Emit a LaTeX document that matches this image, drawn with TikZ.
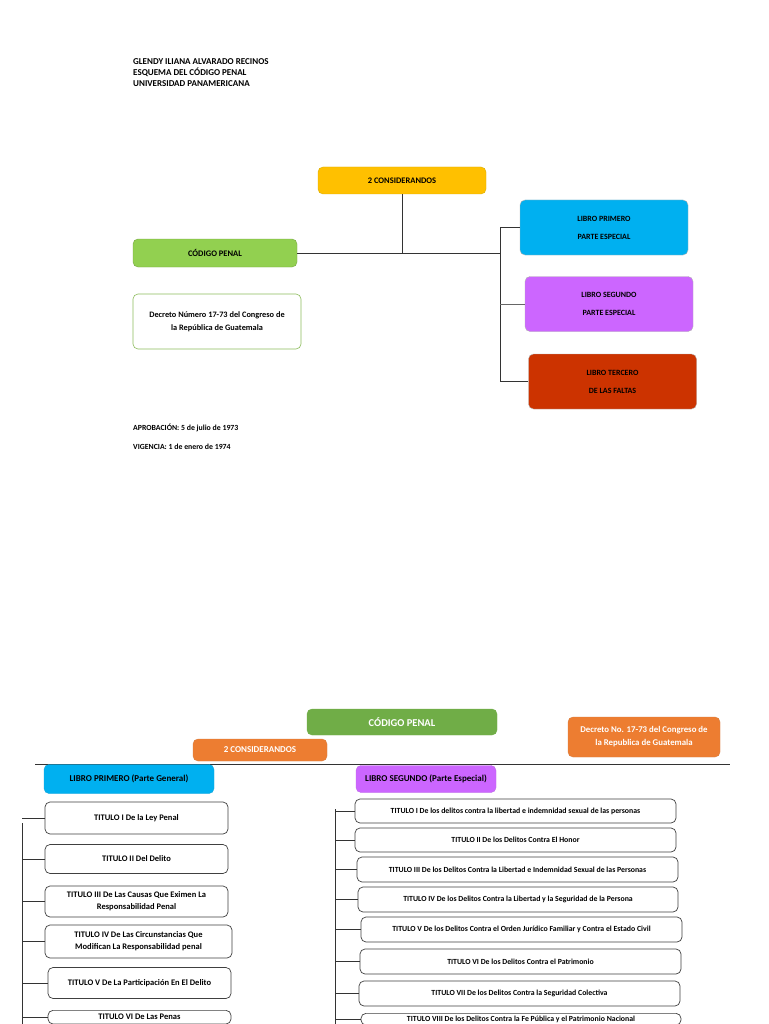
\documentclass[tikz,border=0pt]{standalone}
\usepackage{fontspec}
\setmainfont{Carlito}
\usepackage{tikz}

\definecolor{oro}{HTML}{FFC000}
\definecolor{verdeclaro}{HTML}{92D050}
\definecolor{verde}{HTML}{70AD47}
\definecolor{celeste}{HTML}{00B0F0}
\definecolor{violeta}{HTML}{CC66FF}
\definecolor{ladrillo}{HTML}{CC3300}
\definecolor{naranja}{HTML}{ED7D31}

\begin{document}
\begin{tikzpicture}[x=1pt,y=-1pt,
    caja/.style={draw, rounded corners=5pt, inner sep=0pt, align=center, font=\bfseries\fontsize{8.5}{12}\selectfont},
    libro/.style={caja, minimum width=168pt, minimum height=55pt, draw=gray!60, font=\bfseries\fontsize{8}{18}\selectfont},
    titulo/.style={caja, draw=black!75, line width=0.7pt},
    rama/.style={draw=black!80, line width=0.8pt}]

    \clip (0,0) rectangle (768,1024);
    \fill[white] (0,0) rectangle (768,1024);

    \node[anchor=north west, inner sep=0pt, align=left, font=\bfseries\fontsize{9}{11}\selectfont] (autor) at (133,58)
        {GLENDY ILIANA ALVARADO RECINOS\\ESQUEMA DEL CÓDIGO PENAL\\UNIVERSIDAD PANAMERICANA};

    \node[caja, fill=oro, draw=oro!70!olive, minimum width=168pt, minimum height=27pt] (cons) at (402,180.5) {2 CONSIDERANDOS};
    \node[caja, fill=verdeclaro, draw=verdeclaro!80!black, minimum width=164pt, minimum height=28pt] (cod) at (215,253) {CÓDIGO PENAL};
    \node[caja, draw=verdeclaro!75!gray, line width=0.6pt, minimum width=168pt, minimum height=55pt, font=\bfseries\fontsize{8.3}{13}\selectfont] (dec) at (217,321.5)
        {Decreto Número 17-73 del Congreso de\\la República de Guatemala};
    \node[libro, fill=celeste] (lib1) at (604,227.5) {LIBRO PRIMERO\\PARTE ESPECIAL};
    \node[libro, fill=violeta] (lib2) at (609,304) {LIBRO SEGUNDO\\PARTE ESPECIAL};
    \node[libro, fill=ladrillo] (lib3) at (612.5,381.5) {LIBRO TERCERO\\DE LAS FALTAS};

    \coordinate (brk) at (500,250);
    \draw[rama] (cod.east) -- (cod.east -| brk);
    \draw[rama] (cons.south) -- (cons.south |- cod.east);
    \draw[rama] (brk |- lib1.west) -- (brk |- lib3.west);
    \draw[rama] (lib1.west) -- (lib1.west -| brk);
    \draw[rama, draw=black!60, line width=0.5pt] (lib2.west) -- (lib2.west -| brk);
    \draw[rama] (lib3.west) -- (lib3.west -| brk);

    \node[anchor=west, inner sep=0pt, font=\bfseries\fontsize{7.8}{9}\selectfont] (aprob) at (133,428) {APROBACIÓN: 5 de julio de 1973};
    \node[anchor=west, inner sep=0pt, font=\bfseries\fontsize{7.8}{9}\selectfont] (vig) at (133,447) {VIGENCIA: 1 de enero de 1974};

    \node[caja, fill=verde, draw=verde, text=white, minimum width=190pt, minimum height=26pt, font=\bfseries\fontsize{10.5}{12}\selectfont] (cod2) at (402,722) {CÓDIGO PENAL};
    \node[caja, fill=naranja, draw=naranja!80!gray, text=white, minimum width=134pt, minimum height=22pt, font=\bfseries\fontsize{9}{11}\selectfont] (cons2) at (260,750) {2 CONSIDERANDOS};
    \node[caja, fill=naranja, draw=naranja!80!gray, text=white, minimum width=152pt, minimum height=40pt, font=\bfseries\fontsize{8.8}{13}\selectfont] (dec2) at (644,737)
        {Decreto No. 17-73 del Congreso de\\la Republica de Guatemala};
    \coordinate (rayaA) at (35,764);
    \coordinate (rayaB) at (730,764);
    \draw[black!80, line width=0.8pt] (rayaA) -- (rayaB);
    \node[caja, fill=celeste, draw=celeste!80!gray, minimum width=170pt, minimum height=29pt, font=\bfseries\fontsize{9}{11}\selectfont] (lp2) at (129,779) {LIBRO PRIMERO (Parte General)};
    \node[caja, fill=violeta, draw=violeta!80!gray, minimum width=140pt, minimum height=27pt, font=\bfseries\fontsize{9}{11}\selectfont] (ls2) at (426,779) {LIBRO SEGUNDO (Parte Especial)};

    \node[titulo, minimum width=183pt, minimum height=32pt] (g1) at (136.5,818) {TITULO I De la Ley Penal};
    \node[titulo, minimum width=183pt, minimum height=29pt] (g2) at (136.5,859) {TITULO II Del Delito};
    \node[titulo, minimum width=183pt, minimum height=31pt] (g3) at (136.5,901.5) {TITULO III De Las Causas Que Eximen La\\Responsabilidad Penal};
    \node[titulo, minimum width=187pt, minimum height=33pt] (g4) at (138.5,941.5) {TITULO IV De Las Circunstancias Que\\Modifican La Responsabilidad penal};
    \node[titulo, minimum width=183pt, minimum height=31pt] (g5) at (139.5,983) {TITULO V De La Participación En El Delito};
    \node[titulo, minimum width=183pt, anchor=north, inner ysep=4pt] (g6) at (139.5,1010) {TITULO VI De Las Penas};

    \coordinate (lomoG) at (22,823);
    \draw[rama] (lomoG) -- (22,1030);
    \foreach \t in {g1,g2,g3,g4,g5,g6}
        \draw[rama] (\t.west) -- (\t.west -| lomoG);

    \tikzset{titulo/.append style={font=\bfseries\fontsize{7.8}{9}\selectfont}}
    \node[titulo, minimum width=321pt, minimum height=24pt] (e1) at (515.5,811) {TITULO I De los delitos contra la libertad e indemnidad sexual de las personas};
    \node[titulo, minimum width=321pt, minimum height=24pt] (e2) at (515.5,840) {TITULO II De los Delitos Contra El Honor};
    \node[titulo, minimum width=321pt, minimum height=25pt] (e3) at (517.5,869.5) {TITULO III De los Delitos Contra la Libertad e Indemnidad Sexual de las Personas};
    \node[titulo, minimum width=320pt, minimum height=25pt] (e4) at (518,899.5) {TITULO IV De los Delitos Contra la Libertad y la Seguridad de la Persona};
    \node[titulo, minimum width=321pt, minimum height=25pt] (e5) at (521.5,929.5) {TITULO V De los Delitos Contra el Orden Jurídico Familiar y Contra el Estado Civil};
    \node[titulo, minimum width=321pt, minimum height=25pt] (e6) at (520.5,961.5) {TITULO VI De los Delitos Contra el Patrimonio};
    \node[titulo, minimum width=321pt, minimum height=25pt] (e7) at (519.5,993.5) {TITULO VII De los Delitos Contra la Seguridad Colectiva};
    \node[titulo, minimum width=320pt, anchor=north, inner ysep=2.5pt] (e8) at (521,1013) {TITULO VIII De los Delitos Contra la Fe Pública y el Patrimonio Nacional};

    \coordinate (lomoE) at (335,809);
    \draw[rama] (lomoE) -- (335,1030);
    \foreach \t in {e1,e2,e3,e4,e5,e6,e7,e8}
        \draw[rama] (\t.west) -- (\t.west -| lomoE);

\end{tikzpicture}
\end{document}
